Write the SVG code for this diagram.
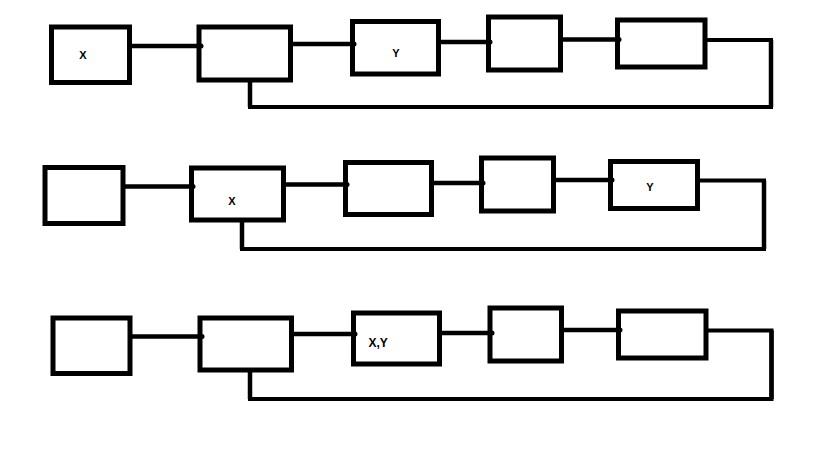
<svg xmlns="http://www.w3.org/2000/svg" width="819" height="460" viewBox="0 0 819 460">
<style>
.box{fill:#fff;stroke:#000;stroke-width:5}
.c{fill:none;stroke:#000;stroke-width:4.5;stroke-linejoin:miter}
.fb{fill:none;stroke:#000;stroke-width:4;stroke-linejoin:miter}
.d{fill:#000}
.t{font-family:"Liberation Sans",Arial,sans-serif;font-weight:bold;font-size:11px;fill:#000}
</style>
<rect width="819" height="460" fill="#fff"/>

<g id="r1n1"><rect class="box" x="51.5" y="27" width="78" height="55.5"/><text class="t" x="83" y="58.5" text-anchor="middle">X</text></g>
<g id="r1n2"><rect class="box" x="199" y="27" width="91.5" height="53"/></g>
<g id="r1n3"><rect class="box" x="352.5" y="21.5" width="86" height="52.5"/><text class="t" x="396" y="56.5" text-anchor="middle">Y</text></g>
<g id="r1n4"><rect class="box" x="488.5" y="17" width="72" height="53"/></g>
<g id="r1n5"><rect class="box" x="617.5" y="20" width="87.5" height="47"/></g>

<g id="r2n1"><rect class="box" x="45" y="167.5" width="78" height="56"/></g>
<g id="r2n2"><rect class="box" x="191.5" y="168" width="92" height="52"/><text class="t" x="232" y="205" text-anchor="middle">X</text></g>
<g id="r2n3"><rect class="box" x="345.5" y="162.5" width="86" height="52"/></g>
<g id="r2n4"><rect class="box" x="481.5" y="158" width="72" height="53"/></g>
<g id="r2n5"><rect class="box" x="610.5" y="161.5" width="87" height="47"/><text class="t" x="650" y="191" text-anchor="middle">Y</text></g>

<g id="r3n1"><rect class="box" x="53" y="318" width="77" height="55.5"/></g>
<g id="r3n2"><rect class="box" x="200" y="318" width="91.5" height="52"/></g>
<g id="r3n3"><rect class="box" x="353.5" y="313" width="86" height="51"/><text class="t" x="368.5" y="346.5" style="font-size:12px">X,Y</text></g>
<g id="r3n4"><rect class="box" x="490" y="308" width="71.5" height="53"/></g>
<g id="r3n5"><rect class="box" x="618.5" y="311" width="87.5" height="47"/></g>

<g id="connectors">
<line class="c" x1="132" y1="46" x2="201" y2="46"/>
<line class="c" x1="290" y1="44" x2="354" y2="44"/>
<line class="c" x1="439" y1="42" x2="490" y2="42"/>
<line class="c" x1="561" y1="39.5" x2="619" y2="39.5"/>
<path class="fb" d="M705 40 H771 V107 H250 V82"/>
<line class="c" x1="250" y1="82" x2="250" y2="107"/>
<line class="c" x1="771" y1="40" x2="771" y2="107"/>
<circle class="d" cx="201" cy="46" r="2.5"/>
<circle class="d" cx="354" cy="44" r="2.5"/>
<circle class="d" cx="490" cy="42" r="2.5"/>
<circle class="d" cx="619" cy="39.5" r="2.5"/>

<line class="c" x1="123" y1="186.5" x2="193" y2="186.5"/>
<line class="c" x1="284" y1="184.5" x2="347" y2="184.5"/>
<line class="c" x1="432" y1="183" x2="483" y2="183"/>
<line class="c" x1="556" y1="180" x2="612" y2="180"/>
<path class="fb" d="M698 180.5 H764 V249 H242 V220"/>
<line class="c" x1="242" y1="220" x2="242" y2="249"/>
<line class="c" x1="764" y1="180.5" x2="764" y2="249"/>
<circle class="d" cx="193" cy="186.5" r="2.5"/>
<circle class="d" cx="347" cy="184.5" r="2.5"/>
<circle class="d" cx="432" cy="183" r="2.5"/>
<circle class="d" cx="483" cy="183" r="2.5"/>
<circle class="d" cx="612" cy="180" r="2.5"/>

<line class="c" x1="130" y1="336.5" x2="202" y2="336.5"/>
<line class="c" x1="291" y1="334" x2="355" y2="334"/>
<line class="c" x1="440" y1="333" x2="492" y2="333"/>
<line class="c" x1="561" y1="330" x2="620" y2="330"/>
<path class="fb" d="M706 330.5 H771.5 V399 H250 V370"/>
<line class="c" x1="250" y1="370" x2="250" y2="399"/>
<line class="c" x1="771.5" y1="330.5" x2="771.5" y2="399"/>
<circle class="d" cx="202" cy="336.5" r="2.5"/>
<circle class="d" cx="355" cy="334" r="2.5"/>
<circle class="d" cx="440" cy="333" r="2.5"/>
<circle class="d" cx="492" cy="333" r="2.5"/>
<circle class="d" cx="620" cy="330" r="2.5"/>
</g>
</svg>
